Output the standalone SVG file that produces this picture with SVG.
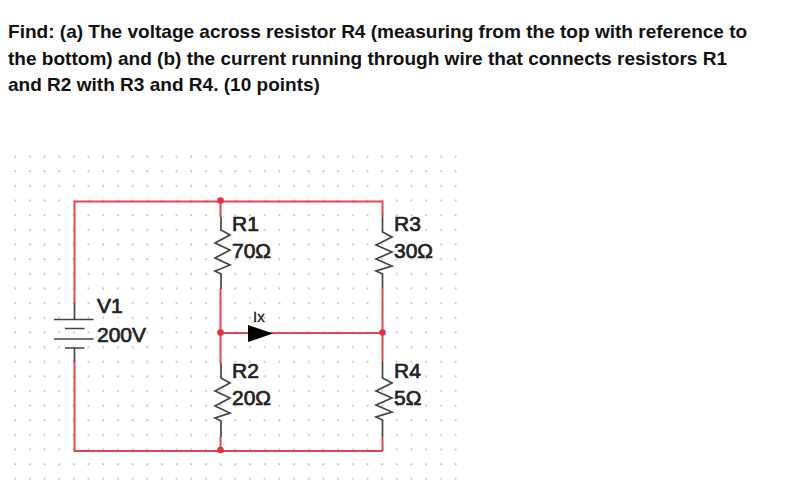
<svg xmlns="http://www.w3.org/2000/svg" width="788" height="491" viewBox="0 0 788 491">
<style>
.q{font:bold 19.05px "Liberation Sans",Arial,sans-serif;fill:#111}
.l{font:21px "Liberation Sans",Arial,sans-serif;fill:#222;stroke:#222;stroke-width:.7}
.s{font:15px "Liberation Sans",Arial,sans-serif;fill:#222;stroke:#222;stroke-width:.35}
.w{fill:none;stroke:#dc4a50;stroke-width:2}
.b{fill:none;stroke:#444;stroke-width:1.7}
.j{fill:#e0313c}
</style>
<defs>
<pattern id="dots" x="8" y="149.5" width="14.68" height="14.65" patternUnits="userSpaceOnUse"><circle cx="7.2" cy="7.2" r="1" fill="#bdbdbd"/></pattern>
</defs>
<rect width="788" height="491" fill="#fff"/>
<rect id="grid" x="8" y="149.5" width="455" height="334" fill="url(#dots)"/>
<g id="question">
<text class="q" x="8" y="38">Find: (a) The voltage across resistor R4 (measuring from the top with reference to</text>
<text class="q" x="8" y="64.500">the bottom) and (b) the current running through wire that connects resistors R1</text>
<text class="q" x="8" y="91">and R2 with R3 and R4. (10 points)</text>
</g>
<g id="connectors">
<path class="w" d="M74.500 303V201.500H382.500V217M220.500 201.500V217M220.500 289V363M382.500 288V362M220.500 333H382.500M220.500 437V451M382.500 437V451M74.500 362V451H382.500"/>
</g>
<g id="V1">
<path class="b" d="M74.500 303V319.500M54 319.500H93.500M65 328.500H84.500M54 339H93.500M65 348H84.500M74.500 348V362"/>
<text class="l" x="97" y="312.500">V1</text>
<text class="l" x="97" y="342">200V</text>
</g>
<g id="R1">
<path class="b" d="M221 217V230L230 235L215 243L230 250L215 258L230 265L215 271L221 274V289"/>
<text class="l" x="232" y="230.500">R1</text>
<text class="l" x="232" y="257.500">70Ω</text>
</g>
<g id="R2">
<path class="b" d="M221 363V378L230 383L215 391L230 398L215 406L230 413L215 418L221 421V437"/>
<text class="l" x="232" y="378">R2</text>
<text class="l" x="232" y="404.500">20Ω</text>
</g>
<g id="R3">
<path class="b" d="M382.500 217V232L392 237L376 245L392 252L376 259L392 266L376 271L382.500 274V288"/>
<text class="l" x="394" y="230.500">R3</text>
<text class="l" x="394" y="257.500">30Ω</text>
</g>
<g id="R4">
<path class="b" d="M382.500 362V378L392 383L376 391L392 398L376 405L392 412L376 417L382.500 420V437"/>
<text class="l" x="394" y="378">R4</text>
<text class="l" x="394" y="404.500">5Ω</text>
</g>
<g id="Ix">
<path d="M248 325L273 333.500L248 342Z" fill="#000"/>
<text class="s" x="253" y="321.500">Ix</text>
</g>
<g id="junctions">
<circle class="j" cx="220.500" cy="200.500" r="3.300"/>
<circle class="j" cx="220.500" cy="332.500" r="3.300"/>
<circle class="j" cx="382.500" cy="332.500" r="3.300"/>
<circle class="j" cx="220.500" cy="450" r="3.300"/>
</g>
</svg>
